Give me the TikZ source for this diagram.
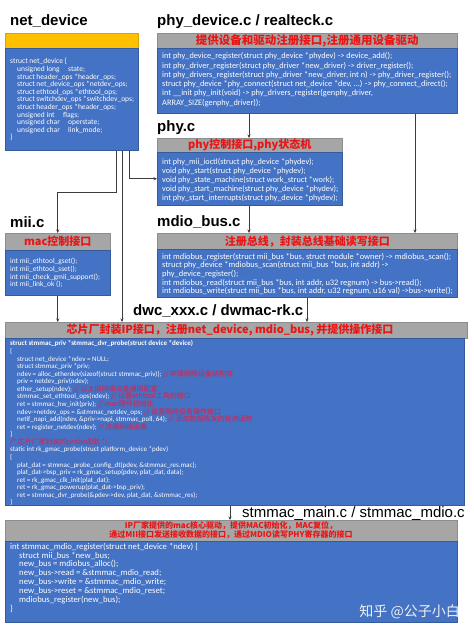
\documentclass[tikz,border=0pt]{standalone}
\usepackage{fontspec}
\setmainfont{Carlito}
\newfontfamily\ttl{Liberation Sans}
\newfontfamily\cjk{Noto Sans CJK SC}
\usetikzlibrary{arrows.meta}
\definecolor{boxblue}{RGB}{68,114,196}
\definecolor{hdrgray}{RGB}{166,166,166}
\definecolor{hdrorange}{RGB}{255,192,0}
\definecolor{hdrred}{RGB}{235,20,20}
\definecolor{cmtred}{RGB}{225,30,70}
\definecolor{linegray}{RGB}{60,60,60}
\newcommand{\cmt}[1]{{\color{cmtred}\cjk #1}}
\newcommand{\ind}{\hspace*{7pt}}
\tikzset{
 body/.style={fill=boxblue, draw=boxblue!80!black, line width=0.5pt, anchor=north west, inner sep=0pt},
 hdr/.style={fill=hdrgray, draw=hdrgray!85!black, line width=0.5pt, anchor=north west, inner sep=0pt},
 code/.style={anchor=north west, inner sep=0pt, text=white, align=left},
 title/.style={anchor=base west, inner sep=0pt, font=\ttl\bfseries\fontsize{15}{18}\selectfont},
 hdrtext/.style={text=hdrred, font=\cjk\bfseries\fontsize{11}{13}\selectfont, inner sep=0pt},
 arr/.style={draw=linegray, line width=0.7pt, -{Stealth[length=3.5pt,width=3pt]}},
}
\begin{document}
\begin{tikzpicture}[x=1pt,y=-1pt]
\useasboundingbox[fill=white] (0,0) rectangle (474,632);

% titles
\node[title] (t1) at (10,25) {net\_device};
\node[title] (t2) at (157,25) {phy\_device.c / realteck.c};
\node[title] (t3) at (157,131) {phy.c};
\node[title] (t4) at (10,227) {mii.c};
\node[title] (t5) at (157,226) {mdio\_bus.c};
\node[title] (t6) at (133,315) {dwc\_xxx.c / dwmac-rk.c};
\node[anchor=base west, inner sep=0pt, font=\ttl\fontsize{15}{18}\selectfont] (t7) at (242,517) {stmmac\_main.c / stmmac\_mdio.c};

% net_device
\node[body, fill=hdrorange, draw=hdrorange!85!black, minimum width=133pt, minimum height=15pt] (ndh) at (5,33) {};
\node[body, minimum width=133pt, minimum height=102pt] (ndb) at (5,48) {};
\node[code, font=\fontsize{7.5}{7.6}\selectfont] (ndc) at (10,58.3) {struct net\_device \{\\
\ind\makebox[51pt][l]{unsigned long}state;\\
\ind struct header\_ops *header\_ops;\\
\ind struct net\_device\_ops *netdev\_ops;\\
\ind struct ethtool\_ops *ethtool\_ops;\\
\ind struct switchdev\_ops *switchdev\_ops;\\
\ind struct header\_ops *header\_ops;\\
\ind\makebox[46pt][l]{unsigned int}flags;\\
\ind\makebox[51pt][l]{unsigned char}operstate;\\
\ind\makebox[51pt][l]{unsigned char}link\_mode;\\
\}};

% phy_device
\node[hdr, minimum width=300pt, minimum height=15pt] (pdh) at (157,33) {};
\node[hdrtext, font=\cjk\bfseries\fontsize{11.5}{13}\selectfont] (pdt) at (pdh.center) {提供设备和驱动注册接口,注册通用设备驱动};
\node[body, minimum width=300pt, minimum height=65pt] (pdb) at (157,48) {};
\node[code, font=\fontsize{8.3}{9.3}\selectfont] (pdc) at (162,52.5) {int phy\_device\_register(struct phy\_device *phydev) -> device\_add();\\
int phy\_driver\_register(struct phy\_driver *new\_driver) -> driver\_register();\\
int phy\_drivers\_register(struct phy\_driver *new\_driver, int n) -> phy\_driver\_register();\\
struct phy\_device *phy\_connect(struct net\_device *dev, ...) -> phy\_connect\_direct();\\
int \_\_init phy\_init(void) -> phy\_drivers\_register(genphy\_driver,\\
ARRAY\_SIZE(genphy\_driver));};

% phy.c
\node[hdr, minimum width=185pt, minimum height=14pt] (phh) at (157,138) {};
\node[hdrtext] (pht) at (phh.center) {phy控制接口,phy状态机};
\node[body, minimum width=185pt, minimum height=53pt] (phb) at (157,152) {};
\node[code, font=\fontsize{8.2}{9}\selectfont] (phc) at (162,157.9) {int phy\_mii\_ioctl(struct phy\_device *phydev);\\
void phy\_start(struct phy\_device *phydev);\\
void phy\_state\_machine(struct work\_struct *work);\\
void phy\_start\_machine(struct phy\_device *phydev);\\
int phy\_start\_interrupts(struct phy\_device *phydev);};

% mii.c
\node[hdr, minimum width=105pt, minimum height=17pt] (mih) at (5,233) {};
\node[hdrtext] (mit) at (mih.center) {mac控制接口};
\node[body, minimum width=105pt, minimum height=45pt] (mib) at (5,250) {};
\node[code, font=\fontsize{7.4}{7.6}\selectfont] (mic) at (10,258.3) {int mii\_ethtool\_gset();\\
int mii\_ethtool\_sset();\\
int mii\_check\_gmii\_support();\\
int mii\_link\_ok ();};

% mdio_bus.c
\node[hdr, minimum width=300pt, minimum height=16pt] (mdh) at (157,233) {};
\node[hdrtext] (mdt) at (mdh.center) {注册总线，封装总线基础读写接口};
\node[body, minimum width=300pt, minimum height=48pt] (mdb) at (157,249) {};
\node[code, font=\fontsize{8.4}{8.7}\selectfont] (mdc) at (162,252.8) {int mdiobus\_register(struct mii\_bus *bus, struct module *owner) -> mdiobus\_scan();\\
struct phy\_device *mdiobus\_scan(struct mii\_bus *bus, int addr) ->\\
phy\_device\_register();\\
int mdiobus\_read(struct mii\_bus *bus, int addr, u32 regnum) -> bus->read();\\
int mdiobus\_write(struct mii\_bus *bus, int addr, u32 regnum, u16 val) ->bus->write();};

% dwc
\node[hdr, minimum width=462pt, minimum height=16pt] (dwh) at (5,322) {};
\node[hdrtext] (dwt) at (230,330) {芯片厂封装IP接口，注册net\_device, mdio\_bus, 并提供操作接口};
\node[body, minimum width=459pt, minimum height=167pt] (dwb) at (5,338) {};
\node[code, font=\fontsize{7}{7.57}\selectfont] (dwc) at (10,340.5) {{\bfseries struct stmmac\_priv *stmmac\_dvr\_probe(struct device *device)}\\
\{\\
\ind struct net\_device *ndev = NULL;\\
\ind struct stmmac\_priv *priv;\\
\ind ndev = alloc\_etherdev(sizeof(struct stmmac\_priv)); \cmt{// 申请网络设备结构体}\\
\ind priv = netdev\_priv(ndev);\\
\ind ether\_setup(ndev); \cmt{// 以太网网络设备通用配置}\\
\ind stmmac\_set\_ethtool\_ops(ndev); \cmt{// 设置ethtool工具的接口}\\
\ind ret = stmmac\_hw\_init(priv); \cmt{// mac硬件初始化}\\
\ind ndev->netdev\_ops = \&stmmac\_netdev\_ops; \cmt{// 设置网络设备操作接口}\\
\ind netif\_napi\_add(ndev, \&priv->napi, stmmac\_poll, 64); \cmt{// 添加数据收发的轮询函数}\\
\ind ret = register\_netdev(ndev); \cmt{// 注册网络设备}\\
\}\\
\cmt{/* 芯片厂家封装的probe函数 */}\\
static int rk\_gmac\_probe(struct platform\_device *pdev)\\
\{\\
\ind plat\_dat = stmmac\_probe\_config\_dt(pdev, \&stmmac\_res.mac);\\
\ind plat\_dat->bsp\_priv = rk\_gmac\_setup(pdev, plat\_dat, data);\\
\ind ret = rk\_gmac\_clk\_init(plat\_dat);\\
\ind ret = rk\_gmac\_powerup(plat\_dat->bsp\_priv);\\
\ind ret = stmmac\_dvr\_probe(\&pdev->dev, plat\_dat, \&stmmac\_res);\\
\}};

% stmmac
\node[hdr, minimum width=452pt, minimum height=21pt] (sth) at (5,520) {};
\node[hdrtext, align=center, font=\cjk\bfseries\fontsize{8}{9}\selectfont] (stt) at (231,530.5) {IP厂家提供的mac核心驱动，提供MAC初始化，MAC复位，\\通过MII接口发送接收数据的接口，通过MDIO读写PHY寄存器的接口};
\node[body, minimum width=452pt, minimum height=81pt] (stb) at (5,541) {};
\node[code, font=\fontsize{8.7}{8.9}\selectfont] (stc) at (10,542.6) {int stmmac\_mdio\_register(struct net\_device *ndev) \{\\
\hspace*{9pt}struct mii\_bus *new\_bus;\\
\hspace*{9pt}new\_bus = mdiobus\_alloc();\\
\hspace*{9pt}new\_bus->read = \&stmmac\_mdio\_read;\\
\hspace*{9pt}new\_bus->write = \&stmmac\_mdio\_write;\\
\hspace*{9pt}new\_bus->reset = \&stmmac\_mdio\_reset;\\
\hspace*{9pt}mdiobus\_register(new\_bus);\\
\}};
\node[anchor=east, inner sep=0pt, text=white!88!gray, font=\cjk\fontsize{14}{16}\selectfont] (wm) at (460,612) {知乎 @公子小白};

% connectors
\draw[arr] (ndb.south -| 116,0) -- (116,192) -| (mih.north);
\draw[arr] (ndb.south -| 122,0) -- (122,0 |- dwh.north);
\draw[arr] (ndb.south -| 129,0) |- (phb.west);
\draw[arr] (pdb.south -| 249,0) -- (249,0 |- phh.north);
\draw[arr] (pdb.south -| 415,0) -- (415,0 |- mdh.north);
\draw[arr] (phb.south -| 249,0) -- (249,0 |- mdh.north);
\draw[arr] (mib.south) -- (mib.south |- dwh.north);
\draw[arr] (mdb.south -| 307,0) -- (307,0 |- dwh.north);
\draw[arr] (dwb.south -| 230,0) -- (230,0 |- sth.north);
\end{tikzpicture}
\end{document}
